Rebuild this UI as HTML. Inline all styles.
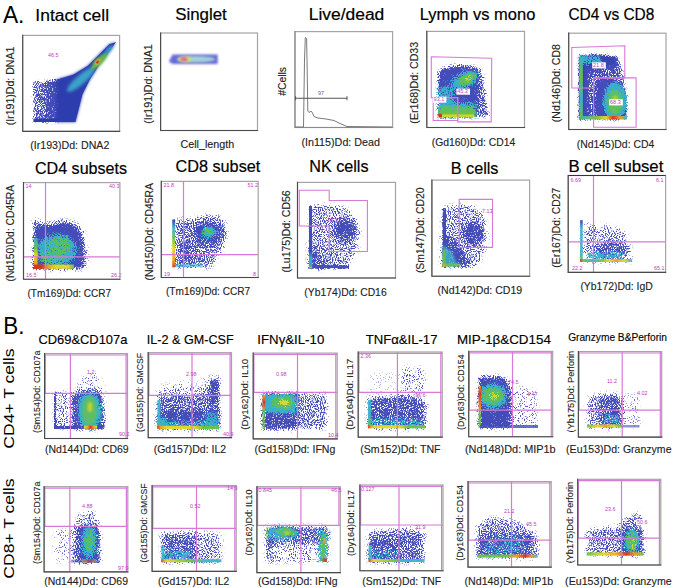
<!DOCTYPE html>
<html><head><meta charset="utf-8"><title>figure</title>
<style>html,body{margin:0;padding:0;background:#fff;}svg{display:block}text{font-family:"Liberation Sans", sans-serif;}</style>
</head><body>
<svg width="673" height="588" viewBox="0 0 673 588">
<defs>
<filter id="b0_3" x="-50%" y="-50%" width="200%" height="200%"><feGaussianBlur stdDeviation="0.24"/></filter>
<filter id="b0_5" x="-50%" y="-50%" width="200%" height="200%"><feGaussianBlur stdDeviation="0.40"/></filter>
<filter id="b0_6" x="-50%" y="-50%" width="200%" height="200%"><feGaussianBlur stdDeviation="0.48"/></filter>
<filter id="b1" x="-50%" y="-50%" width="200%" height="200%"><feGaussianBlur stdDeviation="0.80"/></filter>
<filter id="b1_2" x="-50%" y="-50%" width="200%" height="200%"><feGaussianBlur stdDeviation="0.96"/></filter>
<filter id="b1_5" x="-50%" y="-50%" width="200%" height="200%"><feGaussianBlur stdDeviation="1.20"/></filter>
<filter id="b1_8" x="-50%" y="-50%" width="200%" height="200%"><feGaussianBlur stdDeviation="1.44"/></filter>
<filter id="b2" x="-50%" y="-50%" width="200%" height="200%"><feGaussianBlur stdDeviation="1.60"/></filter>
<linearGradient id="g5strip" x1="0" y1="0" x2="0" y2="1"><stop offset="0" stop-color="#3cb4cc"/><stop offset="0.3" stop-color="#6cc244"/><stop offset="0.7" stop-color="#3cb4cc"/><stop offset="1" stop-color="#6cc244"/></linearGradient>
<linearGradient id="g5band" x1="0" y1="0" x2="1" y2="0"><stop offset="0" stop-color="#3cb4cc"/><stop offset="0.3" stop-color="#6cc244"/><stop offset="0.55" stop-color="#e4dc22"/><stop offset="0.7" stop-color="#e0301c"/><stop offset="0.85" stop-color="#f0a020"/><stop offset="1" stop-color="#3cb4cc"/></linearGradient>
<linearGradient id="g6s" x1="0" y1="0" x2="0" y2="1"><stop offset="0" stop-color="#3cb4cc"/><stop offset="0.3" stop-color="#6cc244"/><stop offset="0.55" stop-color="#e4dc22"/><stop offset="0.85" stop-color="#f0a020"/><stop offset="1" stop-color="#e0301c"/></linearGradient>
<linearGradient id="g6b" x1="0" y1="0" x2="1" y2="0"><stop offset="0" stop-color="#e0301c"/><stop offset="0.2" stop-color="#e0301c"/><stop offset="0.35" stop-color="#f0a020"/><stop offset="0.55" stop-color="#e4dc22"/><stop offset="0.85" stop-color="#e4dc22"/><stop offset="1" stop-color="#6cc244"/></linearGradient>
<linearGradient id="g7s" x1="0" y1="0" x2="0" y2="1"><stop offset="0" stop-color="#2e3eae"/><stop offset="0.18" stop-color="#3cb4cc"/><stop offset="0.4" stop-color="#6cc244"/><stop offset="0.6" stop-color="#e4dc22"/><stop offset="0.85" stop-color="#f0a020"/><stop offset="1" stop-color="#e0301c"/></linearGradient>
<linearGradient id="g8s" x1="0" y1="0" x2="0" y2="1"><stop offset="0" stop-color="#2e3eae"/><stop offset="0.4" stop-color="#3cb4cc"/><stop offset="0.85" stop-color="#3cb4cc"/><stop offset="1" stop-color="#e4dc22"/></linearGradient>
<linearGradient id="g10s" x1="0" y1="0" x2="0" y2="1"><stop offset="0" stop-color="#2e3eae"/><stop offset="0.2" stop-color="#3cb4cc"/><stop offset="0.8" stop-color="#3cb4cc"/><stop offset="1" stop-color="#6cc244"/></linearGradient>
<linearGradient id="g10b" x1="0" y1="0" x2="1" y2="0"><stop offset="0" stop-color="#e0301c"/><stop offset="0.06" stop-color="#6cc244"/><stop offset="0.25" stop-color="#3cb4cc"/><stop offset="0.4" stop-color="#6cc244"/><stop offset="0.55" stop-color="#e4dc22"/><stop offset="0.7" stop-color="#f0a020"/><stop offset="0.85" stop-color="#e4dc22"/><stop offset="1" stop-color="#3cb4cc"/></linearGradient>
<linearGradient id="gb1" x1="0" y1="0" x2="1" y2="0"><stop offset="0" stop-color="#e4dc22"/><stop offset="0.3" stop-color="#f0a020"/><stop offset="0.5" stop-color="#e0301c"/><stop offset="0.75" stop-color="#f0a020"/><stop offset="1" stop-color="#e4dc22"/></linearGradient>
<linearGradient id="gb2s" x1="0" y1="0" x2="0" y2="1"><stop offset="0" stop-color="#3cb4cc"/><stop offset="0.7" stop-color="#3cb4cc"/><stop offset="1" stop-color="#6cc244"/></linearGradient>
<linearGradient id="gb2b" x1="0" y1="0" x2="1" y2="0"><stop offset="0" stop-color="#e0301c"/><stop offset="0.05" stop-color="#f0a020"/><stop offset="0.15" stop-color="#e4dc22"/><stop offset="0.6" stop-color="#e4dc22"/><stop offset="0.75" stop-color="#6cc244"/><stop offset="1" stop-color="#6cc244"/></linearGradient>
<linearGradient id="gb3s" x1="0" y1="0" x2="0" y2="1"><stop offset="0" stop-color="#f0a020"/><stop offset="0.5" stop-color="#e0301c"/><stop offset="1" stop-color="#f0a020"/></linearGradient>
<linearGradient id="gb4s" x1="0" y1="0" x2="0" y2="1"><stop offset="0" stop-color="#3cb4cc"/><stop offset="0.6" stop-color="#3cb4cc"/><stop offset="1" stop-color="#6cc244"/></linearGradient>
<linearGradient id="gb4b" x1="0" y1="0" x2="1" y2="0"><stop offset="0" stop-color="#e0301c"/><stop offset="0.05" stop-color="#f0a020"/><stop offset="0.12" stop-color="#e4dc22"/><stop offset="0.55" stop-color="#e4dc22"/><stop offset="0.7" stop-color="#6cc244"/><stop offset="1" stop-color="#6cc244"/></linearGradient>
<linearGradient id="gb5s" x1="0" y1="0" x2="0" y2="1"><stop offset="0" stop-color="#f0a020"/><stop offset="0.3" stop-color="#e0301c"/><stop offset="1" stop-color="#f0a020"/></linearGradient>
<linearGradient id="gb6b" x1="0" y1="0" x2="1" y2="0"><stop offset="0" stop-color="#6cc244"/><stop offset="0.3" stop-color="#e4dc22"/><stop offset="0.55" stop-color="#f0a020"/><stop offset="0.75" stop-color="#e4dc22"/><stop offset="1" stop-color="#6cc244"/></linearGradient>
<linearGradient id="gc1b" x1="0" y1="0" x2="1" y2="0"><stop offset="0" stop-color="#e4dc22"/><stop offset="0.3" stop-color="#f0a020"/><stop offset="0.55" stop-color="#e0301c"/><stop offset="0.8" stop-color="#f0a020"/><stop offset="1" stop-color="#e4dc22"/></linearGradient>
<linearGradient id="gc2b" x1="0" y1="0" x2="1" y2="0"><stop offset="0" stop-color="#e0301c"/><stop offset="0.04" stop-color="#f0a020"/><stop offset="0.1" stop-color="#e4dc22"/><stop offset="0.5" stop-color="#6cc244"/><stop offset="0.75" stop-color="#3cb4cc"/><stop offset="1" stop-color="#3cb4cc"/></linearGradient>
<linearGradient id="gc4s" x1="0" y1="0" x2="0" y2="1"><stop offset="0" stop-color="#3cb4cc"/><stop offset="0.7" stop-color="#3cb4cc"/><stop offset="1" stop-color="#6cc244"/></linearGradient>
<linearGradient id="gc4b" x1="0" y1="0" x2="1" y2="0"><stop offset="0" stop-color="#e0301c"/><stop offset="0.05" stop-color="#f0a020"/><stop offset="0.1" stop-color="#e4dc22"/><stop offset="0.5" stop-color="#6cc244"/><stop offset="0.6" stop-color="#3cb4cc"/><stop offset="1" stop-color="#3cb4cc"/></linearGradient>
<linearGradient id="gc5b" x1="0" y1="0" x2="1" y2="0"><stop offset="0" stop-color="#6cc244"/><stop offset="0.5" stop-color="#6cc244"/><stop offset="0.65" stop-color="#f0a020"/><stop offset="0.8" stop-color="#e0301c"/><stop offset="0.9" stop-color="#f0a020"/><stop offset="1" stop-color="#3cb4cc"/></linearGradient>
<linearGradient id="gc6b" x1="0" y1="0" x2="1" y2="0"><stop offset="0" stop-color="#6cc244"/><stop offset="0.3" stop-color="#e4dc22"/><stop offset="0.55" stop-color="#f0a020"/><stop offset="0.7" stop-color="#e0301c"/><stop offset="0.85" stop-color="#f0a020"/><stop offset="1" stop-color="#6cc244"/></linearGradient>
<filter id="d_444cba_1_5_3" filterUnits="userSpaceOnUse" x="0" y="0" width="673" height="588" color-interpolation-filters="sRGB"><feGaussianBlur in="SourceAlpha" stdDeviation="1.5" result="d"/><feTurbulence type="fractalNoise" baseFrequency="0.93" numOctaves="2" seed="3" result="n"/><feColorMatrix in="n" type="matrix" values="0 0 0 0 0 0 0 0 0 0 0 0 0 0 0 2.6 0 0 0 -0.8" result="na"/><feComposite in="d" in2="na" operator="arithmetic" k1="0" k2="4.3" k3="3" k4="-3" result="m"/><feFlood flood-color="#444cba" result="c"/><feComposite in="c" in2="m" operator="in"/><feGaussianBlur stdDeviation="0.6"/></filter>
<filter id="d_38b0cc_2_5" filterUnits="userSpaceOnUse" x="0" y="0" width="673" height="588" color-interpolation-filters="sRGB"><feGaussianBlur in="SourceAlpha" stdDeviation="2" result="d"/><feTurbulence type="fractalNoise" baseFrequency="0.93" numOctaves="2" seed="5" result="n"/><feColorMatrix in="n" type="matrix" values="0 0 0 0 0 0 0 0 0 0 0 0 0 0 0 2.6 0 0 0 -0.8" result="na"/><feComposite in="d" in2="na" operator="arithmetic" k1="0" k2="4.3" k3="3" k4="-3" result="m"/><feFlood flood-color="#38b0cc" result="c"/><feComposite in="c" in2="m" operator="in"/><feGaussianBlur stdDeviation="0.6"/></filter>
<filter id="d_5cc060_1_5_7" filterUnits="userSpaceOnUse" x="0" y="0" width="673" height="588" color-interpolation-filters="sRGB"><feGaussianBlur in="SourceAlpha" stdDeviation="1.5" result="d"/><feTurbulence type="fractalNoise" baseFrequency="0.93" numOctaves="2" seed="7" result="n"/><feColorMatrix in="n" type="matrix" values="0 0 0 0 0 0 0 0 0 0 0 0 0 0 0 2.6 0 0 0 -0.8" result="na"/><feComposite in="d" in2="na" operator="arithmetic" k1="0" k2="4.3" k3="3" k4="-3" result="m"/><feFlood flood-color="#5cc060" result="c"/><feComposite in="c" in2="m" operator="in"/><feGaussianBlur stdDeviation="0.6"/></filter>
<filter id="d_d8d830_1_2_11" filterUnits="userSpaceOnUse" x="0" y="0" width="673" height="588" color-interpolation-filters="sRGB"><feGaussianBlur in="SourceAlpha" stdDeviation="1.2" result="d"/><feTurbulence type="fractalNoise" baseFrequency="0.93" numOctaves="2" seed="11" result="n"/><feColorMatrix in="n" type="matrix" values="0 0 0 0 0 0 0 0 0 0 0 0 0 0 0 2.6 0 0 0 -0.8" result="na"/><feComposite in="d" in2="na" operator="arithmetic" k1="0" k2="4.3" k3="3" k4="-3" result="m"/><feFlood flood-color="#d8d830" result="c"/><feComposite in="c" in2="m" operator="in"/><feGaussianBlur stdDeviation="0.6"/></filter>
<filter id="d_38b0cc_1_5_5" filterUnits="userSpaceOnUse" x="0" y="0" width="673" height="588" color-interpolation-filters="sRGB"><feGaussianBlur in="SourceAlpha" stdDeviation="1.5" result="d"/><feTurbulence type="fractalNoise" baseFrequency="0.93" numOctaves="2" seed="5" result="n"/><feColorMatrix in="n" type="matrix" values="0 0 0 0 0 0 0 0 0 0 0 0 0 0 0 2.6 0 0 0 -0.8" result="na"/><feComposite in="d" in2="na" operator="arithmetic" k1="0" k2="4.3" k3="3" k4="-3" result="m"/><feFlood flood-color="#38b0cc" result="c"/><feComposite in="c" in2="m" operator="in"/><feGaussianBlur stdDeviation="0.6"/></filter>
<filter id="d_444cba_2_3" filterUnits="userSpaceOnUse" x="0" y="0" width="673" height="588" color-interpolation-filters="sRGB"><feGaussianBlur in="SourceAlpha" stdDeviation="2" result="d"/><feTurbulence type="fractalNoise" baseFrequency="0.93" numOctaves="2" seed="3" result="n"/><feColorMatrix in="n" type="matrix" values="0 0 0 0 0 0 0 0 0 0 0 0 0 0 0 2.6 0 0 0 -0.8" result="na"/><feComposite in="d" in2="na" operator="arithmetic" k1="0" k2="4.3" k3="3" k4="-3" result="m"/><feFlood flood-color="#444cba" result="c"/><feComposite in="c" in2="m" operator="in"/><feGaussianBlur stdDeviation="0.6"/></filter>
<filter id="d_38b0cc_2_5_5" filterUnits="userSpaceOnUse" x="0" y="0" width="673" height="588" color-interpolation-filters="sRGB"><feGaussianBlur in="SourceAlpha" stdDeviation="2.5" result="d"/><feTurbulence type="fractalNoise" baseFrequency="0.93" numOctaves="2" seed="5" result="n"/><feColorMatrix in="n" type="matrix" values="0 0 0 0 0 0 0 0 0 0 0 0 0 0 0 2.6 0 0 0 -0.8" result="na"/><feComposite in="d" in2="na" operator="arithmetic" k1="0" k2="4.3" k3="3" k4="-3" result="m"/><feFlood flood-color="#38b0cc" result="c"/><feComposite in="c" in2="m" operator="in"/><feGaussianBlur stdDeviation="0.6"/></filter>
<filter id="d_5cc060_2_5_7" filterUnits="userSpaceOnUse" x="0" y="0" width="673" height="588" color-interpolation-filters="sRGB"><feGaussianBlur in="SourceAlpha" stdDeviation="2.5" result="d"/><feTurbulence type="fractalNoise" baseFrequency="0.93" numOctaves="2" seed="7" result="n"/><feColorMatrix in="n" type="matrix" values="0 0 0 0 0 0 0 0 0 0 0 0 0 0 0 2.6 0 0 0 -0.8" result="na"/><feComposite in="d" in2="na" operator="arithmetic" k1="0" k2="4.3" k3="3" k4="-3" result="m"/><feFlood flood-color="#5cc060" result="c"/><feComposite in="c" in2="m" operator="in"/><feGaussianBlur stdDeviation="0.6"/></filter>
<filter id="d_444cba_2_5_3" filterUnits="userSpaceOnUse" x="0" y="0" width="673" height="588" color-interpolation-filters="sRGB"><feGaussianBlur in="SourceAlpha" stdDeviation="2.5" result="d"/><feTurbulence type="fractalNoise" baseFrequency="0.93" numOctaves="2" seed="3" result="n"/><feColorMatrix in="n" type="matrix" values="0 0 0 0 0 0 0 0 0 0 0 0 0 0 0 2.6 0 0 0 -0.8" result="na"/><feComposite in="d" in2="na" operator="arithmetic" k1="0" k2="4.3" k3="3" k4="-3" result="m"/><feFlood flood-color="#444cba" result="c"/><feComposite in="c" in2="m" operator="in"/><feGaussianBlur stdDeviation="0.6"/></filter>
<filter id="d_444cba_0_6_9" filterUnits="userSpaceOnUse" x="0" y="0" width="673" height="588" color-interpolation-filters="sRGB"><feGaussianBlur in="SourceAlpha" stdDeviation="0.6" result="d"/><feTurbulence type="fractalNoise" baseFrequency="0.93" numOctaves="2" seed="9" result="n"/><feColorMatrix in="n" type="matrix" values="0 0 0 0 0 0 0 0 0 0 0 0 0 0 0 2.6 0 0 0 -0.8" result="na"/><feComposite in="d" in2="na" operator="arithmetic" k1="0" k2="4.3" k3="3" k4="-3" result="m"/><feFlood flood-color="#444cba" result="c"/><feComposite in="c" in2="m" operator="in"/><feGaussianBlur stdDeviation="0.6"/></filter>
<filter id="d_444cba_0_8_9" filterUnits="userSpaceOnUse" x="0" y="0" width="673" height="588" color-interpolation-filters="sRGB"><feGaussianBlur in="SourceAlpha" stdDeviation="0.8" result="d"/><feTurbulence type="fractalNoise" baseFrequency="0.93" numOctaves="2" seed="9" result="n"/><feColorMatrix in="n" type="matrix" values="0 0 0 0 0 0 0 0 0 0 0 0 0 0 0 2.6 0 0 0 -0.8" result="na"/><feComposite in="d" in2="na" operator="arithmetic" k1="0" k2="4.3" k3="3" k4="-3" result="m"/><feFlood flood-color="#444cba" result="c"/><feComposite in="c" in2="m" operator="in"/><feGaussianBlur stdDeviation="0.6"/></filter>
<filter id="d_5cc060_2_7" filterUnits="userSpaceOnUse" x="0" y="0" width="673" height="588" color-interpolation-filters="sRGB"><feGaussianBlur in="SourceAlpha" stdDeviation="2" result="d"/><feTurbulence type="fractalNoise" baseFrequency="0.93" numOctaves="2" seed="7" result="n"/><feColorMatrix in="n" type="matrix" values="0 0 0 0 0 0 0 0 0 0 0 0 0 0 0 2.6 0 0 0 -0.8" result="na"/><feComposite in="d" in2="na" operator="arithmetic" k1="0" k2="4.3" k3="3" k4="-3" result="m"/><feFlood flood-color="#5cc060" result="c"/><feComposite in="c" in2="m" operator="in"/><feGaussianBlur stdDeviation="0.6"/></filter>
<filter id="d_d8d830_1_5_11" filterUnits="userSpaceOnUse" x="0" y="0" width="673" height="588" color-interpolation-filters="sRGB"><feGaussianBlur in="SourceAlpha" stdDeviation="1.5" result="d"/><feTurbulence type="fractalNoise" baseFrequency="0.93" numOctaves="2" seed="11" result="n"/><feColorMatrix in="n" type="matrix" values="0 0 0 0 0 0 0 0 0 0 0 0 0 0 0 2.6 0 0 0 -0.8" result="na"/><feComposite in="d" in2="na" operator="arithmetic" k1="0" k2="4.3" k3="3" k4="-3" result="m"/><feFlood flood-color="#d8d830" result="c"/><feComposite in="c" in2="m" operator="in"/><feGaussianBlur stdDeviation="0.6"/></filter>
</defs>
<rect width="673" height="588" fill="#fff"/>
<text x="13.7" y="23.2" font-size="23.80" fill="#000" stroke="#000" stroke-width="0" text-anchor="middle" textLength="21.5" lengthAdjust="spacingAndGlyphs">A.</text>
<text x="72.2" y="21.4" font-size="17.30" fill="#000" stroke="#000" stroke-width="0.21" text-anchor="middle" textLength="73.7" lengthAdjust="spacingAndGlyphs">Intact cell</text>
<text x="201.0" y="19.6" font-size="17.30" fill="#000" stroke="#000" stroke-width="0.21" text-anchor="middle" textLength="51.6" lengthAdjust="spacingAndGlyphs">Singlet</text>
<text x="346.5" y="20.0" font-size="17.30" fill="#000" stroke="#000" stroke-width="0.21" text-anchor="middle" textLength="75.6" lengthAdjust="spacingAndGlyphs">Live/dead</text>
<text x="477.5" y="20.0" font-size="17.30" fill="#000" stroke="#000" stroke-width="0.21" text-anchor="middle" textLength="115.6" lengthAdjust="spacingAndGlyphs">Lymph vs mono</text>
<text x="611.4" y="20.0" font-size="17.30" fill="#000" stroke="#000" stroke-width="0.21" text-anchor="middle" textLength="85.9" lengthAdjust="spacingAndGlyphs">CD4 vs CD8</text>
<clipPath id="c1"><rect x="22.7" y="35.4" width="96.89999999999999" height="96.0"/></clipPath>
<g clip-path="url(#c1)">
<g filter="url(#d_444cba_1_5_3)">
<polygon points="33.4,122 62,122 62,79 41.4,81.8 33.4,81.8" fill="#000" fill-opacity="0.55"/>
<polygon points="46,122 62,122 62,79 46,81" fill="#000" fill-opacity="0.5"/>
</g>
<polygon points="56,122 75.4,122 78.9,108.6 82.5,94.3 89.6,80 98.6,65.7 109.3,51.4 116,42 109.3,44.3 98.6,55 87.9,65.7 73.6,74.6 55.7,80 56,80.5" fill="#2e3eae" fill-opacity="1" filter="url(#b1_8)"/>
<polygon points="60,122 75.4,122 78.9,108.6 82.5,94.3 89.6,80 98.6,65.7 109.3,51.4 116,42 109.3,44.3 98.6,55 87.9,65.7 73.6,74.6 55.7,80 60,80" fill="#2e3eae" fill-opacity="1" filter="url(#b0_6)"/>
<rect x="33.4" y="118.6" width="42" height="3.4" fill="#2e3eae" fill-opacity="1" filter="url(#b0_5)"/>
<ellipse cx="81" cy="79.5" rx="18" ry="4.6" transform="rotate(-41 81 79.5)" fill="#3cb4cc" fill-opacity="0.85" filter="url(#b2)"/>
<ellipse cx="99.5" cy="61" rx="11.5" ry="3.6" transform="rotate(-45 99.5 61)" fill="#6cc244" fill-opacity="0.9" filter="url(#b1)"/>
<ellipse cx="109" cy="50" rx="6" ry="2.2" transform="rotate(-48 109 50)" fill="#3cb4cc" fill-opacity="0.8" filter="url(#b1)"/>
<ellipse cx="97.7" cy="62.1" rx="3" ry="2" transform="rotate(-45 97.7 62.1)" fill="#e4dc22" fill-opacity="0.9" filter="url(#b1)"/>
<ellipse cx="97.7" cy="62.1" rx="2" ry="1.3" transform="rotate(-45 97.7 62.1)" fill="#e0301c" fill-opacity="1" filter="url(#b0_5)"/>
</g>
<rect x="22.7" y="35.4" width="96.9" height="96.0" fill="none" stroke="#a4a4a4" stroke-width="1.2"/>
<path d="M22.7,34.8 V131.4 H120.2" fill="none" stroke="#4a4a4a" stroke-width="1.1"/>
<text x="48" y="56.6" font-size="5.3999999999999995" fill="#c040c0">46.5</text>
<text transform="translate(14.3,86.0) rotate(-90)" x="0" y="0" font-size="10.50" fill="#222" stroke="#222" stroke-width="0.13" text-anchor="middle" textLength="78.7" lengthAdjust="spacingAndGlyphs">(Ir191)Dd: DNA1</text>
<text x="69.8" y="149.3" font-size="10.40" fill="#222" stroke="#222" stroke-width="0.12" text-anchor="middle" textLength="79.0" lengthAdjust="spacingAndGlyphs">(Ir193)Dd: DNA2</text>
<clipPath id="c2"><rect x="160.6" y="33" width="96.9" height="97.5"/></clipPath>
<g clip-path="url(#c2)">
<polygon points="168.8,61.6 172.5,54.6 217.7,54.4 217.7,63.9 172.5,64" fill="#6064d4" fill-opacity="0.95" filter="url(#b1)"/>
<ellipse cx="196" cy="59.3" rx="19" ry="3.2" fill="#a8dcd8" fill-opacity="0.9" filter="url(#b1)"/>
<ellipse cx="185" cy="59.3" rx="7" ry="3.0" fill="#d0e070" fill-opacity="0.9" filter="url(#b1)"/>
<ellipse cx="184" cy="59.3" rx="3.5" ry="2.2" fill="#e85a9a" fill-opacity="0.9" filter="url(#b1)"/>
</g>
<rect x="160.6" y="33.0" width="96.9" height="97.5" fill="none" stroke="#a4a4a4" stroke-width="1.2"/>
<path d="M160.6,32.4 V130.5 H258.1" fill="none" stroke="#4a4a4a" stroke-width="1.1"/>
<text transform="translate(152.0,84.0) rotate(-90)" x="0" y="0" font-size="10.50" fill="#222" stroke="#222" stroke-width="0.13" text-anchor="middle" textLength="79.4" lengthAdjust="spacingAndGlyphs">(Ir191)Dd: DNA1</text>
<text x="207.3" y="147.9" font-size="10.80" fill="#222" stroke="#222" stroke-width="0.13" text-anchor="middle" textLength="53.8" lengthAdjust="spacingAndGlyphs">Cell_length</text>
<rect x="295.0" y="31.6" width="97.6" height="95.9" fill="none" stroke="#a4a4a4" stroke-width="1.2"/>
<path d="M295.0,31.0 V127.5 H393.2" fill="none" stroke="#8a8a8a" stroke-width="1.1"/>
<path d="M295,127 L303.5,127 L304.5,60 L305.3,37.5 L306.6,38.5 L307.2,70 L307.8,111 L309,112.5 L311,111 L312.5,113 L314,116.5 L318,118 L326,119 L334,120.5 L340,123.5 L347,126.5 L392,127" fill="none" stroke="#7a7a7a" stroke-width="1"/>
<line x1="295" y1="98.2" x2="347" y2="98.2" stroke="#555" stroke-width="1.1"/>
<line x1="347" y1="96.2" x2="347" y2="100.2" stroke="#555" stroke-width="1"/>
<line x1="295.6" y1="96.2" x2="295.6" y2="100.2" stroke="#555" stroke-width="1"/>
<text x="318" y="95.2" font-size="5.3999999999999995" fill="#666">97</text>
<text transform="translate(286.2,81.4) rotate(-90)" x="0" y="0" font-size="11.00" fill="#222" stroke="#222" stroke-width="0.13" text-anchor="middle" textLength="28.9" lengthAdjust="spacingAndGlyphs">#Cells</text>
<text x="340.7" y="145.6" font-size="10.40" fill="#222" stroke="#222" stroke-width="0.12" text-anchor="middle" textLength="78.6" lengthAdjust="spacingAndGlyphs">(In115)Dd: Dead</text>
<clipPath id="c3"><rect x="426.8" y="31.4" width="97.69999999999999" height="96.1"/></clipPath>
<g clip-path="url(#c3)">
<g filter="url(#d_444cba_1_5_3)">
<polygon points="437.9,71.8 442.7,67.7 452.2,65 463.1,64.3 472.6,65.7 480.8,69 483.5,77.2 484.9,90.8 487.6,107.2 489,116.7 437.9,117.5" fill="#000" fill-opacity="0.55"/>
<polygon points="439.5,74 444,70 452.2,68 463.1,67.5 472.6,69 478,72 479,80 478,95 476,116.5 439,116.8" fill="#000" fill-opacity="0.75"/>
</g>
<g filter="url(#d_38b0cc_2_5)">
<ellipse cx="465" cy="80" rx="15" ry="8" transform="rotate(-25 465 80)" fill="#000" fill-opacity="0.8"/>
<rect x="438.5" y="86" width="15" height="31" fill="#000" fill-opacity="0.7"/>
<rect x="438.5" y="102" width="38" height="15" fill="#000" fill-opacity="0.75"/>
</g>
<g filter="url(#d_5cc060_1_5_7)">
<ellipse cx="467" cy="79" rx="10" ry="5" transform="rotate(-25 467 79)" fill="#000" fill-opacity="0.85"/>
<rect x="438.5" y="106" width="36" height="11" fill="#000" fill-opacity="0.8"/>
</g>
<g filter="url(#d_d8d830_1_2_11)">
<ellipse cx="468" cy="78.5" rx="4" ry="2" transform="rotate(-25 468 78.5)" fill="#000" fill-opacity="0.5"/>
</g>
<rect x="438.5" y="111.5" width="37" height="5.5" fill="#6cc244" fill-opacity="0.8" filter="url(#b1)"/>
<rect x="440" y="114.4" width="34" height="2.6" fill="#e4dc22" fill-opacity="0.8" filter="url(#b0_5)"/>
<rect x="438.5" y="113.8" width="3.5" height="3.6" fill="#e0301c" fill-opacity="1"/>
</g>
<polygon points="431.3,56.8 491.7,58.2 491.2,121.9 457.7,121.9 457.7,97.6 431.3,97.6" fill="none" stroke="#d77ad7" stroke-width="1.1"/>
<polygon points="433.2,97.6 457.7,97.6 457.7,120.5 433.2,120.5" fill="none" stroke="#d77ad7" stroke-width="1.1"/>
<rect x="456.4" y="88.6" width="13.6" height="6.1" fill="#fff"/>
<text x="457.2" y="93.3" font-size="5.52" fill="#c040c0">45.3</text>
<rect x="432.8" y="96.6" width="13.6" height="6.1" fill="#fff"/>
<text x="433.6" y="101.3" font-size="5.52" fill="#c040c0">93.1</text>
<rect x="426.8" y="31.4" width="97.7" height="96.1" fill="none" stroke="#a4a4a4" stroke-width="1.2"/>
<path d="M426.8,30.8 V127.5 H525.1" fill="none" stroke="#4a4a4a" stroke-width="1.1"/>
<text transform="translate(418.3,82.8) rotate(-90)" x="0" y="0" font-size="10.50" fill="#222" stroke="#222" stroke-width="0.13" text-anchor="middle" textLength="81.7" lengthAdjust="spacingAndGlyphs">(Er168)Dd: CD33</text>
<text x="473.5" y="145.6" font-size="10.40" fill="#222" stroke="#222" stroke-width="0.12" text-anchor="middle" textLength="83.4" lengthAdjust="spacingAndGlyphs">(Gd160)Dd: CD14</text>
<clipPath id="c4"><rect x="568.7" y="33.2" width="97.29999999999995" height="96.3"/></clipPath>
<g clip-path="url(#c4)">
<g filter="url(#d_444cba_1_5_3)">
<polygon points="579.3,55 600,54.5 617,56.8 622,70 625,85 627,100 627,118.5 579.3,119.5" fill="#000" fill-opacity="0.62"/>
<polygon points="579.3,55.5 600,55 616,57 619,66 600,68 588,72 587,118 579.3,119.5" fill="#000" fill-opacity="0.85"/>
<polygon points="598,80 612,78 622,85 626,100 626,118.5 596,119.5" fill="#000" fill-opacity="0.8"/>
</g>
<polygon points="579.3,56 600,55.5 614,57.5 616,64 600,66 585,68 583,118 579.3,119" fill="#2e3eae" fill-opacity="0.6" filter="url(#b1_2)"/>
<g filter="url(#d_38b0cc_1_5_5)">
<rect x="579.3" y="55.5" width="22" height="9" fill="#000" fill-opacity="0.7"/>
<ellipse cx="615" cy="101" rx="12" ry="19" fill="#000" fill-opacity="0.9"/>
</g>
<g filter="url(#d_5cc060_1_5_7)">
<ellipse cx="615" cy="102" rx="7.5" ry="13" fill="#000" fill-opacity="0.8"/>
</g>
<ellipse cx="615" cy="100" rx="3" ry="5" fill="#e4dc22" fill-opacity="0.5" filter="url(#b1_5)"/>
<rect x="579.5" y="57" width="3.4" height="62" fill="url(#g5strip)" fill-opacity="0.95"/>
<rect x="581" y="116" width="46" height="3.5" fill="url(#g5band)" fill-opacity="0.95"/>
</g>
<polygon points="571.8,47.5 624.8,45.7 624.8,77.9 593.6,77.9 593.6,88 571.8,88" fill="none" stroke="#d77ad7" stroke-width="1.1"/>
<polygon points="593.6,77.9 636.1,77.9 636.1,127.3 593.6,127.3" fill="none" stroke="#d77ad7" stroke-width="1.1"/>
<rect x="592.2" y="62.3" width="13.6" height="6.1" fill="#fff"/>
<text x="593" y="67" font-size="5.52" fill="#c040c0">21.8</text>
<rect x="609.2" y="99.3" width="13.6" height="6.1" fill="#fff"/>
<text x="610" y="104" font-size="5.52" fill="#c040c0">68.3</text>
<rect x="568.7" y="33.2" width="97.3" height="96.3" fill="none" stroke="#a4a4a4" stroke-width="1.2"/>
<path d="M568.7,32.6 V129.5 H666.6" fill="none" stroke="#4a4a4a" stroke-width="1.1"/>
<text transform="translate(559.5,83.2) rotate(-90)" x="0" y="0" font-size="10.50" fill="#222" stroke="#222" stroke-width="0.13" text-anchor="middle" textLength="77.9" lengthAdjust="spacingAndGlyphs">(Nd146)Dd: CD8</text>
<text x="615.5" y="147.9" font-size="10.40" fill="#222" stroke="#222" stroke-width="0.12" text-anchor="middle" textLength="77.5" lengthAdjust="spacingAndGlyphs">(Nd145)Dd: CD4</text>
<text x="81.0" y="174.2" font-size="17.30" fill="#000" stroke="#000" stroke-width="0.21" text-anchor="middle" textLength="92.2" lengthAdjust="spacingAndGlyphs">CD4 subsets</text>
<text x="217.9" y="172.4" font-size="17.30" fill="#000" stroke="#000" stroke-width="0.21" text-anchor="middle" textLength="84.8" lengthAdjust="spacingAndGlyphs">CD8 subset</text>
<text x="338.9" y="171.7" font-size="17.30" fill="#000" stroke="#000" stroke-width="0.21" text-anchor="middle" textLength="59.3" lengthAdjust="spacingAndGlyphs">NK cells</text>
<text x="474.6" y="173.7" font-size="17.30" fill="#000" stroke="#000" stroke-width="0.21" text-anchor="middle" textLength="47.8" lengthAdjust="spacingAndGlyphs">B cells</text>
<text x="615.9" y="171.7" font-size="17.30" fill="#000" stroke="#000" stroke-width="0.21" text-anchor="middle" textLength="94.9" lengthAdjust="spacingAndGlyphs">B cell subset</text>
<clipPath id="c5"><rect x="23.5" y="182.6" width="96.4" height="96.70000000000002"/></clipPath>
<g clip-path="url(#c5)">
<g filter="url(#d_444cba_2_3)">
<polygon points="33.6,218 45,224 55,221 66,220 76,223 83,230 86,245 87,262 85,269 33.6,269" fill="#000" fill-opacity="0.55"/>
<polygon points="34,225 45,228 55,225 65,224 75,227 80,234 82,245 82,262 80,268.7 34,268.7" fill="#000" fill-opacity="0.85"/>
</g>
<g filter="url(#d_38b0cc_2_5_5)">
<ellipse cx="57" cy="250" rx="20" ry="16" fill="#000" fill-opacity="0.8"/>
</g>
<g filter="url(#d_5cc060_2_5_7)">
<ellipse cx="60" cy="245" rx="12" ry="10" fill="#000" fill-opacity="0.55"/>
<ellipse cx="50" cy="259" rx="14" ry="7" fill="#000" fill-opacity="0.5"/>
</g>
<rect x="34" y="238" width="3.6" height="31" fill="url(#g6s)" fill-opacity="0.95"/>
<rect x="34" y="264.6" width="40" height="4.2" fill="url(#g6b)" fill-opacity="0.95"/>
</g>
<line x1="45.5" y1="182.6" x2="45.5" y2="279.3" stroke="#d77ad7" stroke-width="1.2"/>
<line x1="23.5" y1="256.8" x2="119.9" y2="256.8" stroke="#d77ad7" stroke-width="1.2"/>
<text x="25.5" y="188" font-size="5.3999999999999995" fill="#c040c0">14</text>
<text x="109" y="188" font-size="5.3999999999999995" fill="#c040c0">40.3</text>
<text x="26" y="277" font-size="5.3999999999999995" fill="#c040c0">16.5</text>
<text x="111" y="277" font-size="5.3999999999999995" fill="#c040c0">26.2</text>
<rect x="23.5" y="182.6" width="96.4" height="96.7" fill="none" stroke="#a4a4a4" stroke-width="1.2"/>
<path d="M23.5,182.0 V279.3 H120.5" fill="none" stroke="#4a4a4a" stroke-width="1.1"/>
<text transform="translate(13.8,233.2) rotate(-90)" x="0" y="0" font-size="10.20" fill="#222" stroke="#222" stroke-width="0.12" text-anchor="middle" textLength="96.7" lengthAdjust="spacingAndGlyphs">(Nd150)Dd: CD45RA</text>
<text x="69.3" y="297.2" font-size="10.40" fill="#222" stroke="#222" stroke-width="0.12" text-anchor="middle" textLength="83.8" lengthAdjust="spacingAndGlyphs">(Tm169)Dd: CCR7</text>
<clipPath id="c6"><rect x="161.3" y="181.4" width="96.89999999999998" height="96.1"/></clipPath>
<g clip-path="url(#c6)">
<g filter="url(#d_444cba_2_5_3)">
<polygon points="175,218 190,220 200,216 215,215 225,222 227,235 222,250 215,262 210,267.3 175,267.3" fill="#000" fill-opacity="0.5"/>
<ellipse cx="209" cy="233" rx="14" ry="10" fill="#000" fill-opacity="0.6"/>
<rect x="175" y="240" width="20" height="27" fill="#000" fill-opacity="0.2"/>
</g>
<g filter="url(#d_38b0cc_2_5)">
<ellipse cx="209" cy="232.5" rx="9" ry="6.5" fill="#000" fill-opacity="0.75"/>
</g>
<g filter="url(#d_5cc060_1_5_7)">
<ellipse cx="208" cy="232" rx="5" ry="4" fill="#000" fill-opacity="0.65"/>
</g>
<rect x="172.2" y="219.7" width="3" height="47.6" fill="url(#g7s)" fill-opacity="0.95"/>
<rect x="175" y="264" width="28" height="3.3" fill="#3cb4cc" fill-opacity="0.6"/>
</g>
<line x1="183.5" y1="181.4" x2="183.5" y2="277.5" stroke="#d77ad7" stroke-width="1.2"/>
<line x1="161.3" y1="254.6" x2="258.2" y2="254.6" stroke="#d77ad7" stroke-width="1.2"/>
<text x="163.5" y="187" font-size="5.3999999999999995" fill="#c040c0">21.8</text>
<text x="247.5" y="187" font-size="5.3999999999999995" fill="#c040c0">51.2</text>
<text x="164" y="276" font-size="5.3999999999999995" fill="#c040c0">19</text>
<text x="253" y="276" font-size="5.3999999999999995" fill="#c040c0">8</text>
<rect x="161.3" y="181.4" width="96.9" height="96.1" fill="none" stroke="#a4a4a4" stroke-width="1.2"/>
<path d="M161.3,180.8 V277.5 H258.8" fill="none" stroke="#4a4a4a" stroke-width="1.1"/>
<text transform="translate(152.8,231.8) rotate(-90)" x="0" y="0" font-size="10.20" fill="#222" stroke="#222" stroke-width="0.12" text-anchor="middle" textLength="97.5" lengthAdjust="spacingAndGlyphs">(Nd150)Dd: CD45RA</text>
<text x="208.1" y="295.3" font-size="10.40" fill="#222" stroke="#222" stroke-width="0.12" text-anchor="middle" textLength="84.3" lengthAdjust="spacingAndGlyphs">(Tm169)Dd: CCR7</text>
<clipPath id="c7"><rect x="297.5" y="182.4" width="98.0" height="95.6"/></clipPath>
<g clip-path="url(#c7)">
<g filter="url(#d_444cba_2_5_3)">
<polygon points="310,205 330,205 345,208 355,215 360,230 358,248 350,262 345,268.5 309,268.5" fill="#000" fill-opacity="0.42"/>
<ellipse cx="345" cy="230" rx="11" ry="11" fill="#000" fill-opacity="0.6"/>
<polygon points="309,240 322,256 330,268.5 309,268.5" fill="#000" fill-opacity="0.4"/>
</g>
<g filter="url(#d_444cba_0_6_9)">
<rect x="309" y="205.9" width="3.2" height="62.6" fill="#000" fill-opacity="0.9"/>
<rect x="309" y="265.2" width="40" height="3.3" fill="#000" fill-opacity="0.9"/>
</g>
<rect x="309" y="250" width="3.2" height="18.5" fill="url(#g8s)" fill-opacity="0.85" filter="url(#b0_5)"/>
</g>
<polygon points="299.3,190.3 329.2,190.3 329.2,200.5 367.4,200.5 367.4,251.5 329.2,251.5 329.2,226 299.3,226" fill="none" stroke="#d77ad7" stroke-width="1.1"/>
<text x="327" y="222" font-size="5.3999999999999995" fill="#c040c0">18.13</text>
<rect x="297.5" y="182.4" width="98.0" height="95.6" fill="none" stroke="#a4a4a4" stroke-width="1.2"/>
<path d="M297.5,181.8 V278.0 H396.1" fill="none" stroke="#4a4a4a" stroke-width="1.1"/>
<text transform="translate(289.7,231.4) rotate(-90)" x="0" y="0" font-size="10.20" fill="#222" stroke="#222" stroke-width="0.12" text-anchor="middle" textLength="82.1" lengthAdjust="spacingAndGlyphs">(Lu175)Dd: CD56</text>
<text x="345.5" y="296.3" font-size="10.40" fill="#222" stroke="#222" stroke-width="0.12" text-anchor="middle" textLength="82.3" lengthAdjust="spacingAndGlyphs">(Yb174)Dd: CD16</text>
<clipPath id="c8"><rect x="431.9" y="180.1" width="97.70000000000005" height="96.1"/></clipPath>
<g clip-path="url(#c8)">
<g filter="url(#d_444cba_2_5_3)">
<polygon points="442.5,208 455,205 470,205 482,212 487,230 487,245 482,258 476,266.5 442.5,266.5" fill="#000" fill-opacity="0.4"/>
<ellipse cx="473" cy="233" rx="11" ry="11" fill="#000" fill-opacity="0.6"/>
<polygon points="442.5,232 455,242 466,256 472,266.5 442.5,266.5" fill="#000" fill-opacity="0.65"/>
</g>
<g filter="url(#d_444cba_0_6_9)">
<rect x="442.5" y="208" width="3.5" height="58.5" fill="#000" fill-opacity="0.85"/>
</g>
<polygon points="442.5,245 452,252 458,266.5 442.5,266.5" fill="#3cb4cc" fill-opacity="0.8" filter="url(#b1_5)"/>
<rect x="442.5" y="250" width="3" height="16.5" fill="#6cc244" fill-opacity="0.9"/>
<rect x="442.5" y="263.5" width="18" height="3" fill="#6cc244" fill-opacity="0.8"/>
<rect x="442.5" y="264" width="2.6" height="2.6" fill="#f0a020" fill-opacity="0.95"/>
</g>
<polygon points="459.2,199.4 492.5,199.4 492.5,247.4 459.2,247.4" fill="none" stroke="#d77ad7" stroke-width="1.1"/>
<text x="482" y="213" font-size="5.3999999999999995" fill="#c040c0">7.13</text>
<rect x="431.9" y="180.1" width="97.7" height="96.1" fill="none" stroke="#a4a4a4" stroke-width="1.2"/>
<path d="M431.9,179.5 V276.2 H530.2" fill="none" stroke="#4a4a4a" stroke-width="1.1"/>
<text transform="translate(424.4,230.3) rotate(-90)" x="0" y="0" font-size="10.20" fill="#222" stroke="#222" stroke-width="0.12" text-anchor="middle" textLength="85.6" lengthAdjust="spacingAndGlyphs">(Sm147)Dd: CD20</text>
<text x="479.9" y="293.6" font-size="10.40" fill="#222" stroke="#222" stroke-width="0.12" text-anchor="middle" textLength="84.6" lengthAdjust="spacingAndGlyphs">(Nd142)Dd: CD19</text>
<clipPath id="c9"><rect x="568.2" y="175.5" width="97.39999999999998" height="96.89999999999998"/></clipPath>
<g clip-path="url(#c9)">
<g filter="url(#d_444cba_2_5_3)">
<polygon points="582,224 600,225 615,227 625,232 630,245 632,261.7 582,261.7" fill="#000" fill-opacity="0.36"/>
<ellipse cx="612" cy="250" rx="16" ry="9" fill="#000" fill-opacity="0.4"/>
</g>
<g filter="url(#d_38b0cc_1_5_5)">
<rect x="588" y="252" width="36" height="7" fill="#000" fill-opacity="0.6"/>
</g>
<rect x="580.1" y="220.2" width="2.6" height="41.5" fill="url(#g10s)" fill-opacity="0.95"/>
<rect x="580.1" y="259.2" width="52" height="2.8" fill="url(#g10b)" fill-opacity="0.95"/>
</g>
<line x1="593.5" y1="175.5" x2="593.5" y2="272.4" stroke="#d77ad7" stroke-width="1.2"/>
<line x1="568.2" y1="241.9" x2="665.6" y2="241.9" stroke="#d77ad7" stroke-width="1.2"/>
<text x="570.5" y="181.5" font-size="5.3999999999999995" fill="#c040c0">6.69</text>
<text x="656" y="181.5" font-size="5.3999999999999995" fill="#c040c0">6.1</text>
<text x="572" y="270" font-size="5.3999999999999995" fill="#c040c0">22.2</text>
<text x="654" y="270" font-size="5.3999999999999995" fill="#c040c0">65.1</text>
<rect x="568.2" y="175.5" width="97.4" height="96.9" fill="none" stroke="#a4a4a4" stroke-width="1.2"/>
<path d="M568.2,174.9 V272.4 H666.2" fill="none" stroke="#4a4a4a" stroke-width="1.1"/>
<line x1="568.2" y1="175.5" x2="665.6" y2="175.5" stroke="#333" stroke-width="1.2"/>
<text transform="translate(559.6,227.7) rotate(-90)" x="0" y="0" font-size="10.20" fill="#222" stroke="#222" stroke-width="0.12" text-anchor="middle" textLength="79.9" lengthAdjust="spacingAndGlyphs">(Er167)Dd: CD27</text>
<text x="616.6" y="290.3" font-size="10.40" fill="#222" stroke="#222" stroke-width="0.12" text-anchor="middle" textLength="72.4" lengthAdjust="spacingAndGlyphs">(Yb172)Dd: IgD</text>
<text x="13.9" y="334.4" font-size="23.80" fill="#000" stroke="#000" stroke-width="0" text-anchor="middle" textLength="21.2" lengthAdjust="spacingAndGlyphs">B.</text>
<text transform="translate(14.1,398.6) rotate(-90)" x="0" y="0" font-size="15.00" fill="#000" stroke="#000" stroke-width="0" text-anchor="middle" textLength="100.2" lengthAdjust="spacingAndGlyphs">CD4+ T cells</text>
<text transform="translate(14.4,528.6) rotate(-90)" x="0" y="0" font-size="15.00" fill="#000" stroke="#000" stroke-width="0" text-anchor="middle" textLength="100.2" lengthAdjust="spacingAndGlyphs">CD8+ T cells</text>
<text x="82.9" y="344.0" font-size="12.80" fill="#000" stroke="#000" stroke-width="0.15" text-anchor="middle" textLength="89.0" lengthAdjust="spacingAndGlyphs">CD69&amp;CD107a</text>
<text x="190.2" y="343.9" font-size="12.80" fill="#000" stroke="#000" stroke-width="0.15" text-anchor="middle" textLength="86.8" lengthAdjust="spacingAndGlyphs">IL-2 &amp; GM-CSF</text>
<text x="290.8" y="343.9" font-size="12.80" fill="#000" stroke="#000" stroke-width="0.15" text-anchor="middle" textLength="66.9" lengthAdjust="spacingAndGlyphs">IFN&#947;&amp;IL-10</text>
<text x="401.6" y="343.9" font-size="12.80" fill="#000" stroke="#000" stroke-width="0.15" text-anchor="middle" textLength="71.7" lengthAdjust="spacingAndGlyphs">TNF&#945;&amp;IL-17</text>
<text x="503.9" y="343.9" font-size="12.80" fill="#000" stroke="#000" stroke-width="0.15" text-anchor="middle" textLength="93.9" lengthAdjust="spacingAndGlyphs">MIP-1&#946;&amp;CD154</text>
<text x="617.6" y="341.0" font-size="10.30" fill="#000" stroke="#000" stroke-width="0.12" text-anchor="middle" textLength="98.9" lengthAdjust="spacingAndGlyphs">Granzyme B&amp;Perforin</text>
<clipPath id="c10"><rect x="44.6" y="353.6" width="82.9" height="84.89999999999998"/></clipPath>
<g clip-path="url(#c10)">
<g filter="url(#d_444cba_2_3)">
<polygon points="54,392 70,390 70,429 54,429" fill="#000" fill-opacity="0.3"/>
<polygon points="74,392 80,380 90,370 100,375 105,392" fill="#000" fill-opacity="0.22"/>
<polygon points="72,394 80,391 92,390 102,393 104,410 104,429 72,429" fill="#000" fill-opacity="0.8"/>
</g>
<g filter="url(#d_444cba_0_6_9)">
<rect x="54" y="392" width="2.5" height="37" fill="#000" fill-opacity="0.7"/>
<rect x="54" y="426" width="50" height="3" fill="#000" fill-opacity="0.8"/>
</g>
<g filter="url(#d_38b0cc_2_5)">
<ellipse cx="89.6" cy="411" rx="12" ry="19" fill="#000" fill-opacity="0.9"/>
</g>
<ellipse cx="89.6" cy="411" rx="7.5" ry="15" fill="#6cc244" fill-opacity="0.75" filter="url(#b2)"/>
<ellipse cx="90" cy="407" rx="2.5" ry="5" fill="#e4dc22" fill-opacity="0.7" filter="url(#b1_5)"/>
<rect x="84" y="425.6" width="13" height="3.2" fill="url(#gb1)" fill-opacity="0.95" filter="url(#b0_3)"/>
</g>
<line x1="70.4" y1="353.6" x2="70.4" y2="438.5" stroke="#d77ad7" stroke-width="1.2"/>
<line x1="44.6" y1="393.3" x2="127.5" y2="393.3" stroke="#d77ad7" stroke-width="1.2"/>
<line x1="44.6" y1="355.0" x2="127.5" y2="355.0" stroke="#d77ad7" stroke-width="1.2"/>
<line x1="126.1" y1="353.6" x2="126.1" y2="438.5" stroke="#d77ad7" stroke-width="1.2"/>
<line x1="45.300000000000004" y1="353.6" x2="45.300000000000004" y2="393.3" stroke="#d77ad7" stroke-width="1.2"/>
<rect x="44.6" y="353.6" width="82.9" height="84.9" fill="none" stroke="#a4a4a4" stroke-width="1.2"/>
<path d="M44.6,353.0 V438.5 H128.1" fill="none" stroke="#4a4a4a" stroke-width="1.1"/>
<text x="87" y="374" font-size="5.3999999999999995" fill="#c040c0">1.2</text>
<text x="119" y="436" font-size="5.3999999999999995" fill="#c040c0">90.2</text>
<text transform="translate(39.8,391.8) rotate(-90)" x="0" y="0" font-size="8.30" fill="#222" stroke="#222" stroke-width="0.1" text-anchor="middle" textLength="82.4" lengthAdjust="spacingAndGlyphs">(Sm154)Dd: CD107a</text>
<text x="86.8" y="452.8" font-size="10.40" fill="#222" stroke="#222" stroke-width="0.12" text-anchor="middle" textLength="83.8" lengthAdjust="spacingAndGlyphs">(Nd144)Dd: CD69</text>
<clipPath id="c11"><rect x="148.2" y="352.7" width="83.30000000000001" height="84.90000000000003"/></clipPath>
<g clip-path="url(#c11)">
<g filter="url(#d_444cba_2_5_3)">
<polygon points="157,388 175,382 195,383 208,378 219,372 219,395 157,395" fill="#000" fill-opacity="0.25"/>
<polygon points="157,396 175,394 195,396 208,392 213,380 219,378 219,429 157,429" fill="#000" fill-opacity="0.55"/>
<rect x="157" y="410" width="62" height="19" fill="#000" fill-opacity="0.45"/>
</g>
<g filter="url(#d_444cba_0_8_9)">
<rect x="210" y="380" width="9" height="49" fill="#000" fill-opacity="0.55"/>
</g>
<g filter="url(#d_38b0cc_1_5_5)">
<rect x="157" y="418" width="10" height="11" fill="#000" fill-opacity="0.7"/>
<rect x="205" y="412" width="14" height="17" fill="#000" fill-opacity="0.6"/>
<rect x="157" y="421" width="62" height="8" fill="#000" fill-opacity="0.5"/>
</g>
<rect x="157.4" y="400" width="3" height="29" fill="url(#gb2s)" fill-opacity="0.9"/>
<rect x="157.4" y="425.8" width="61.5" height="3.2" fill="url(#gb2b)" fill-opacity="0.95"/>
</g>
<line x1="192" y1="352.7" x2="192" y2="437.6" stroke="#d77ad7" stroke-width="1.2"/>
<line x1="148.2" y1="395.4" x2="231.5" y2="395.4" stroke="#d77ad7" stroke-width="1.2"/>
<line x1="148.2" y1="354.09999999999997" x2="231.5" y2="354.09999999999997" stroke="#d77ad7" stroke-width="1.2"/>
<line x1="230.1" y1="352.7" x2="230.1" y2="437.6" stroke="#d77ad7" stroke-width="1.2"/>
<line x1="148.89999999999998" y1="352.7" x2="148.89999999999998" y2="395.4" stroke="#d77ad7" stroke-width="1.2"/>
<rect x="148.2" y="352.7" width="83.3" height="84.9" fill="none" stroke="#a4a4a4" stroke-width="1.2"/>
<path d="M148.2,352.1 V437.6 H232.1" fill="none" stroke="#4a4a4a" stroke-width="1.1"/>
<text x="186" y="376" font-size="5.3999999999999995" fill="#c040c0">2.98</text>
<text x="223" y="436" font-size="5.3999999999999995" fill="#c040c0">40.9</text>
<text transform="translate(143.2,392.4) rotate(-90)" x="0" y="0" font-size="8.30" fill="#222" stroke="#222" stroke-width="0.1" text-anchor="middle" textLength="79.1" lengthAdjust="spacingAndGlyphs">(Gd155)Dd: GMCSF</text>
<text x="189.9" y="452.8" font-size="10.40" fill="#222" stroke="#222" stroke-width="0.12" text-anchor="middle" textLength="72.4" lengthAdjust="spacingAndGlyphs">(Gd157)Dd: IL2</text>
<clipPath id="c12"><rect x="253.2" y="353.1" width="84.0" height="85.79999999999995"/></clipPath>
<g clip-path="url(#c12)">
<g filter="url(#d_444cba_2_3)">
<rect x="297" y="394" width="30" height="35" fill="#000" fill-opacity="0.45"/>
<rect x="262.4" y="393" width="35" height="36.5" fill="#000" fill-opacity="0.75"/>
</g>
<g filter="url(#d_38b0cc_2_5)">
<rect x="263" y="394" width="34" height="19" fill="#000" fill-opacity="0.85"/>
<ellipse cx="280" cy="404" rx="17" ry="10" fill="#000" fill-opacity="0.5"/>
</g>
<g filter="url(#d_5cc060_2_7)">
<ellipse cx="283" cy="403" rx="12" ry="7" fill="#000" fill-opacity="0.85"/>
</g>
<g filter="url(#d_d8d830_1_5_11)">
<ellipse cx="284" cy="402.5" rx="6" ry="3.5" fill="#000" fill-opacity="0.7"/>
</g>
<rect x="262.4" y="395" width="2.8" height="15" fill="url(#gb3s)" fill-opacity="0.9" filter="url(#b0_3)"/>
<rect x="262.4" y="410" width="2.8" height="19" fill="#6cc244" fill-opacity="0.7" filter="url(#b0_3)"/>
</g>
<line x1="297.5" y1="353.1" x2="297.5" y2="438.9" stroke="#d77ad7" stroke-width="1.2"/>
<line x1="253.2" y1="392.4" x2="337.2" y2="392.4" stroke="#d77ad7" stroke-width="1.2"/>
<line x1="253.2" y1="354.5" x2="337.2" y2="354.5" stroke="#d77ad7" stroke-width="1.2"/>
<line x1="335.8" y1="353.1" x2="335.8" y2="438.9" stroke="#d77ad7" stroke-width="1.2"/>
<line x1="253.89999999999998" y1="353.1" x2="253.89999999999998" y2="392.4" stroke="#d77ad7" stroke-width="1.2"/>
<rect x="253.2" y="353.1" width="84.0" height="85.8" fill="none" stroke="#a4a4a4" stroke-width="1.2"/>
<path d="M253.2,352.5 V438.9 H337.8" fill="none" stroke="#4a4a4a" stroke-width="1.1"/>
<text x="276" y="376" font-size="5.3999999999999995" fill="#c040c0">0.98</text>
<text x="328" y="437" font-size="5.3999999999999995" fill="#c040c0">10.4</text>
<text transform="translate(247.8,394.3) rotate(-90)" x="0" y="0" font-size="8.30" fill="#222" stroke="#222" stroke-width="0.1" text-anchor="middle" textLength="70.8" lengthAdjust="spacingAndGlyphs">(Dy162)Dd: IL10</text>
<text x="294.9" y="452.8" font-size="10.40" fill="#222" stroke="#222" stroke-width="0.12" text-anchor="middle" textLength="80.8" lengthAdjust="spacingAndGlyphs">(Gd158)Dd: IFNg</text>
<clipPath id="c13"><rect x="358.2" y="352" width="84.0" height="85.10000000000002"/></clipPath>
<g clip-path="url(#c13)">
<g filter="url(#d_444cba_2_5_3)">
<polygon points="400,368 412,366 424,368 426,392 400,393" fill="#000" fill-opacity="0.25"/>
<polygon points="368,372 395,372 395,392 368,392" fill="#000" fill-opacity="0.1"/>
<polygon points="368,397 395,396 415,396 426,402 426,428.3 368,428.3" fill="#000" fill-opacity="0.65"/>
</g>
<g filter="url(#d_38b0cc_1_5_5)">
<rect x="368" y="418" width="55" height="10" fill="#000" fill-opacity="0.45"/>
</g>
<rect x="368" y="400" width="3" height="28" fill="url(#gb4s)" fill-opacity="0.9"/>
<rect x="368" y="425.2" width="57" height="3.2" fill="url(#gb4b)" fill-opacity="0.95"/>
</g>
<line x1="397.4" y1="352" x2="397.4" y2="437.1" stroke="#d77ad7" stroke-width="1.2"/>
<line x1="358.2" y1="392.3" x2="442.2" y2="392.3" stroke="#d77ad7" stroke-width="1.2"/>
<line x1="358.2" y1="353.4" x2="442.2" y2="353.4" stroke="#d77ad7" stroke-width="1.2"/>
<line x1="440.8" y1="352" x2="440.8" y2="437.1" stroke="#d77ad7" stroke-width="1.2"/>
<line x1="358.9" y1="352" x2="358.9" y2="392.3" stroke="#d77ad7" stroke-width="1.2"/>
<rect x="358.2" y="352.0" width="84.0" height="85.1" fill="none" stroke="#a4a4a4" stroke-width="1.2"/>
<path d="M358.2,351.4 V437.1 H442.8" fill="none" stroke="#4a4a4a" stroke-width="1.1"/>
<text x="360.5" y="358" font-size="5.3999999999999995" fill="#c040c0">2.36</text>
<text x="415" y="397" font-size="5.3999999999999995" fill="#c040c0">36.6</text>
<text transform="translate(352.6,394.3) rotate(-90)" x="0" y="0" font-size="8.30" fill="#222" stroke="#222" stroke-width="0.1" text-anchor="middle" textLength="70.8" lengthAdjust="spacingAndGlyphs">(Dy164)Dd: IL17</text>
<text x="400.4" y="452.8" font-size="10.40" fill="#222" stroke="#222" stroke-width="0.12" text-anchor="middle" textLength="80.2" lengthAdjust="spacingAndGlyphs">(Sm152)Dd: TNF</text>
<clipPath id="c14"><rect x="468.7" y="351.4" width="84.00000000000006" height="85.30000000000001"/></clipPath>
<g clip-path="url(#c14)">
<g filter="url(#d_444cba_2_3)">
<polygon points="510,392 525,385 537,392 538,428 510,428" fill="#000" fill-opacity="0.22"/>
<polygon points="479,377 500,376 507,380 511,390 511,428 479,428" fill="#000" fill-opacity="0.85"/>
</g>
<g filter="url(#d_38b0cc_2_5)">
<ellipse cx="493" cy="396" rx="14" ry="12.5" fill="#000" fill-opacity="0.85"/>
</g>
<g filter="url(#d_5cc060_2_7)">
<ellipse cx="493" cy="396" rx="11" ry="9" fill="#000" fill-opacity="0.85"/>
</g>
<g filter="url(#d_d8d830_1_5_11)">
<ellipse cx="494" cy="396" rx="5" ry="4" fill="#000" fill-opacity="0.55"/>
</g>
<rect x="478.5" y="386" width="2.6" height="24" fill="url(#gb5s)" fill-opacity="0.95" filter="url(#b0_3)"/>
<rect x="478.5" y="410" width="2.6" height="18" fill="#6cc244" fill-opacity="0.8" filter="url(#b0_3)"/>
<rect x="480" y="425" width="58" height="3" fill="#444cba" fill-opacity="0.8"/>
</g>
<line x1="512.5" y1="351.4" x2="512.5" y2="436.7" stroke="#d77ad7" stroke-width="1.2"/>
<line x1="468.7" y1="410.2" x2="552.7" y2="410.2" stroke="#d77ad7" stroke-width="1.2"/>
<line x1="468.7" y1="352.79999999999995" x2="552.7" y2="352.79999999999995" stroke="#d77ad7" stroke-width="1.2"/>
<line x1="551.3000000000001" y1="351.4" x2="551.3000000000001" y2="436.7" stroke="#d77ad7" stroke-width="1.2"/>
<line x1="469.4" y1="351.4" x2="469.4" y2="410.2" stroke="#d77ad7" stroke-width="1.2"/>
<rect x="468.7" y="351.4" width="84.0" height="85.3" fill="none" stroke="#a4a4a4" stroke-width="1.2"/>
<path d="M468.7,350.8 V436.7 H553.3" fill="none" stroke="#4a4a4a" stroke-width="1.1"/>
<text x="508" y="384" font-size="5.3999999999999995" fill="#c040c0">74.5</text>
<text x="527" y="396" font-size="5.3999999999999995" fill="#c040c0">4.47</text>
<text transform="translate(463.7,392.2) rotate(-90)" x="0" y="0" font-size="8.30" fill="#222" stroke="#222" stroke-width="0.1" text-anchor="middle" textLength="75.6" lengthAdjust="spacingAndGlyphs">(Dy163)Dd: CD154</text>
<text x="510.3" y="452.8" font-size="10.40" fill="#222" stroke="#222" stroke-width="0.12" text-anchor="middle" textLength="90.8" lengthAdjust="spacingAndGlyphs">(Nd148)Dd: MIP1b</text>
<clipPath id="c15"><rect x="578.4" y="351.6" width="83.30000000000007" height="85.5"/></clipPath>
<g clip-path="url(#c15)">
<g filter="url(#d_444cba_2_5_3)">
<polygon points="587,398 600,394 615,394 622,398 622,428 587,428" fill="#000" fill-opacity="0.42"/>
<polygon points="622,392 640,395 640,427 622,427" fill="#000" fill-opacity="0.18"/>
<polygon points="600,398 612,395 621,398 621,428 600,428" fill="#000" fill-opacity="0.45"/>
</g>
<g filter="url(#d_38b0cc_1_5_5)">
<rect x="603" y="414" width="17" height="10" fill="#000" fill-opacity="0.5"/>
</g>
<rect x="587" y="424.5" width="34.5" height="3.1" fill="url(#gb6b)" fill-opacity="0.95"/>
<rect x="621.5" y="425" width="18" height="2.5" fill="#444cba" fill-opacity="0.6"/>
</g>
<line x1="622.2" y1="351.6" x2="622.2" y2="437.1" stroke="#d77ad7" stroke-width="1.2"/>
<line x1="578.4" y1="410.2" x2="661.7" y2="410.2" stroke="#d77ad7" stroke-width="1.2"/>
<line x1="578.4" y1="353.0" x2="661.7" y2="353.0" stroke="#d77ad7" stroke-width="1.2"/>
<line x1="660.3000000000001" y1="351.6" x2="660.3000000000001" y2="437.1" stroke="#d77ad7" stroke-width="1.2"/>
<line x1="579.1" y1="351.6" x2="579.1" y2="410.2" stroke="#d77ad7" stroke-width="1.2"/>
<rect x="578.4" y="351.6" width="83.3" height="85.5" fill="none" stroke="#a4a4a4" stroke-width="1.2"/>
<path d="M578.4,351.0 V437.1 H662.3" fill="none" stroke="#4a4a4a" stroke-width="1.1"/>
<text x="607" y="383" font-size="5.3999999999999995" fill="#c040c0">11.2</text>
<text x="637" y="395" font-size="5.3999999999999995" fill="#c040c0">4.02</text>
<text transform="translate(574.3,391.6) rotate(-90)" x="0" y="0" font-size="8.30" fill="#222" stroke="#222" stroke-width="0.1" text-anchor="middle" textLength="81.6" lengthAdjust="spacingAndGlyphs">(Yb175)Dd: Perforin</text>
<text x="618.8" y="453.2" font-size="10.40" fill="#222" stroke="#222" stroke-width="0.12" text-anchor="middle" textLength="105.4" lengthAdjust="spacingAndGlyphs">(Eu153)Dd: Granzyme</text>
<clipPath id="c16"><rect x="44.1" y="486.7" width="83.69999999999999" height="85.19999999999999"/></clipPath>
<g clip-path="url(#c16)">
<g filter="url(#d_444cba_2_3)">
<rect x="54" y="528" width="15" height="34" fill="#000" fill-opacity="0.2"/>
<polygon points="74,528 78,515 88,510 98,515 100,528" fill="#000" fill-opacity="0.35"/>
<polygon points="71,528 85,526 99,528 100,562.6 71,562.6" fill="#000" fill-opacity="0.45"/>
<polygon points="78,528 88,526 99,528 100,562.6 78,562.6" fill="#000" fill-opacity="0.75"/>
</g>
<g filter="url(#d_38b0cc_2_5)">
<ellipse cx="89" cy="542" rx="8" ry="17" fill="#000" fill-opacity="0.8"/>
</g>
<g filter="url(#d_5cc060_2_7)">
<ellipse cx="89.5" cy="541" rx="5" ry="12" fill="#000" fill-opacity="0.65"/>
</g>
<rect x="82" y="559.4" width="14" height="3.2" fill="url(#gc1b)" fill-opacity="0.9" filter="url(#b0_3)"/>
<rect x="71" y="559.6" width="29" height="3" fill="#444cba" fill-opacity="0.5"/>
</g>
<line x1="69.8" y1="486.7" x2="69.8" y2="571.9" stroke="#d77ad7" stroke-width="1.2"/>
<line x1="44.1" y1="526.4" x2="127.8" y2="526.4" stroke="#d77ad7" stroke-width="1.2"/>
<line x1="44.1" y1="488.09999999999997" x2="127.8" y2="488.09999999999997" stroke="#d77ad7" stroke-width="1.2"/>
<line x1="126.39999999999999" y1="486.7" x2="126.39999999999999" y2="571.9" stroke="#d77ad7" stroke-width="1.2"/>
<line x1="44.800000000000004" y1="486.7" x2="44.800000000000004" y2="526.4" stroke="#d77ad7" stroke-width="1.2"/>
<rect x="44.1" y="486.7" width="83.7" height="85.2" fill="none" stroke="#a4a4a4" stroke-width="1.2"/>
<path d="M44.1,486.1 V571.9 H128.4" fill="none" stroke="#4a4a4a" stroke-width="1.1"/>
<text x="82" y="508" font-size="5.3999999999999995" fill="#c040c0">4.88</text>
<text x="118" y="570" font-size="5.3999999999999995" fill="#c040c0">97.9</text>
<text transform="translate(39.5,522.8) rotate(-90)" x="0" y="0" font-size="9.00" fill="#222" stroke="#222" stroke-width="0.11" text-anchor="middle" textLength="82.5" lengthAdjust="spacingAndGlyphs">(Sm154)Dd: CD107a</text>
<text x="86.1" y="585.0" font-size="10.40" fill="#222" stroke="#222" stroke-width="0.12" text-anchor="middle" textLength="83.8" lengthAdjust="spacingAndGlyphs">(Nd144)Dd: CD69</text>
<clipPath id="c17"><rect x="152.1" y="485.5" width="84.1" height="85.89999999999998"/></clipPath>
<g clip-path="url(#c17)">
<g filter="url(#d_444cba_2_5_3)">
<polygon points="161.4,533 190,532 221,534 221,562.3 161.4,562.3" fill="#000" fill-opacity="0.4"/>
<rect x="161.4" y="533" width="35" height="29" fill="#000" fill-opacity="0.3"/>
</g>
<g filter="url(#d_38b0cc_1_5_5)">
<rect x="161.4" y="550" width="30" height="9" fill="#000" fill-opacity="0.6"/>
</g>
<rect x="161.4" y="545" width="3" height="17.3" fill="#3cb4cc" fill-opacity="0.8"/>
<rect x="161.4" y="559.2" width="60" height="3.1" fill="url(#gc2b)" fill-opacity="0.95"/>
</g>
<line x1="196.5" y1="485.5" x2="196.5" y2="571.4" stroke="#d77ad7" stroke-width="1.2"/>
<line x1="152.1" y1="528.4" x2="236.2" y2="528.4" stroke="#d77ad7" stroke-width="1.2"/>
<line x1="152.1" y1="486.9" x2="236.2" y2="486.9" stroke="#d77ad7" stroke-width="1.2"/>
<line x1="234.79999999999998" y1="485.5" x2="234.79999999999998" y2="571.4" stroke="#d77ad7" stroke-width="1.2"/>
<line x1="152.79999999999998" y1="485.5" x2="152.79999999999998" y2="528.4" stroke="#d77ad7" stroke-width="1.2"/>
<rect x="152.1" y="485.5" width="84.1" height="85.9" fill="none" stroke="#a4a4a4" stroke-width="1.2"/>
<path d="M152.1,484.9 V571.4 H236.8" fill="none" stroke="#4a4a4a" stroke-width="1.1"/>
<text x="190" y="508" font-size="5.3999999999999995" fill="#c040c0">0.52</text>
<text x="227" y="490" font-size="5.3999999999999995" fill="#c040c0">14.9</text>
<text transform="translate(147.4,523.0) rotate(-90)" x="0" y="0" font-size="9.00" fill="#222" stroke="#222" stroke-width="0.11" text-anchor="middle" textLength="79.1" lengthAdjust="spacingAndGlyphs">(Gd155)Dd: GMCSF</text>
<text x="193.6" y="585.0" font-size="10.40" fill="#222" stroke="#222" stroke-width="0.12" text-anchor="middle" textLength="71.2" lengthAdjust="spacingAndGlyphs">(Gd157)Dd: IL2</text>
<clipPath id="c18"><rect x="256.9" y="486.7" width="83.40000000000003" height="85.90000000000003"/></clipPath>
<g clip-path="url(#c18)">
<g filter="url(#d_444cba_2_3)">
<rect x="266" y="526" width="63" height="36.5" fill="#000" fill-opacity="0.25"/>
<rect x="266" y="526" width="63" height="18" fill="#000" fill-opacity="0.4"/>
<rect x="266" y="540" width="8" height="22" fill="#000" fill-opacity="0.3"/>
</g>
<g filter="url(#d_38b0cc_2_5)">
<ellipse cx="282" cy="533" rx="17" ry="7" fill="#000" fill-opacity="0.8"/>
<rect x="318.5" y="530" width="9.5" height="32" fill="#000" fill-opacity="0.7"/>
</g>
<g filter="url(#d_5cc060_1_5_7)">
<ellipse cx="286" cy="532" rx="10" ry="4.5" fill="#000" fill-opacity="0.75"/>
<rect x="320" y="534" width="7" height="27" fill="#000" fill-opacity="0.6"/>
</g>
<rect x="266" y="527" width="2.5" height="13" fill="#6cc244" fill-opacity="0.45" filter="url(#b0_5)"/>
<ellipse cx="287" cy="533" rx="3" ry="2" fill="#e4dc22" fill-opacity="0.6" filter="url(#b1)"/>
<ellipse cx="324.5" cy="541" rx="1.8" ry="2.5" fill="#f0a020" fill-opacity="0.8" filter="url(#b0_5)"/>
<rect x="322.5" y="558.5" width="4.5" height="3.5" fill="#e0301c" fill-opacity="0.85" filter="url(#b0_3)"/>
</g>
<line x1="300.9" y1="486.7" x2="300.9" y2="572.6" stroke="#d77ad7" stroke-width="1.2"/>
<line x1="256.9" y1="525.4" x2="340.3" y2="525.4" stroke="#d77ad7" stroke-width="1.2"/>
<line x1="256.9" y1="488.09999999999997" x2="340.3" y2="488.09999999999997" stroke="#d77ad7" stroke-width="1.2"/>
<line x1="338.90000000000003" y1="486.7" x2="338.90000000000003" y2="525.4" stroke="#d77ad7" stroke-width="1.2"/>
<line x1="257.59999999999997" y1="486.7" x2="257.59999999999997" y2="525.4" stroke="#d77ad7" stroke-width="1.2"/>
<rect x="256.9" y="486.7" width="83.4" height="85.9" fill="none" stroke="#a4a4a4" stroke-width="1.2"/>
<path d="M256.9,486.1 V572.6 H340.9" fill="none" stroke="#4a4a4a" stroke-width="1.1"/>
<text x="258.5" y="492" font-size="5.3999999999999995" fill="#c040c0">0.845</text>
<text x="331" y="492" font-size="5.3999999999999995" fill="#c040c0">46.5</text>
<text transform="translate(252.3,522.5) rotate(-90)" x="0" y="0" font-size="9.00" fill="#222" stroke="#222" stroke-width="0.11" text-anchor="middle" textLength="66.1" lengthAdjust="spacingAndGlyphs">(Dy162)Dd: IL10</text>
<text x="297.8" y="585.0" font-size="10.40" fill="#222" stroke="#222" stroke-width="0.12" text-anchor="middle" textLength="79.7" lengthAdjust="spacingAndGlyphs">(Gd158)Dd: IFNg</text>
<clipPath id="c19"><rect x="359.9" y="485" width="83.10000000000002" height="85.70000000000005"/></clipPath>
<g clip-path="url(#c19)">
<g filter="url(#d_444cba_2_5_3)">
<polygon points="368.6,531 395,530 412,528 424,532 424.2,562 368.6,562" fill="#000" fill-opacity="0.55"/>
<rect x="368.6" y="538" width="32" height="24" fill="#000" fill-opacity="0.2"/>
</g>
<g filter="url(#d_38b0cc_1_5_5)">
<rect x="368.6" y="550" width="30" height="9" fill="#000" fill-opacity="0.35"/>
</g>
<rect x="368.6" y="545" width="3" height="17" fill="url(#gc4s)" fill-opacity="0.9"/>
<rect x="368.6" y="559" width="56" height="3" fill="url(#gc4b)" fill-opacity="0.95"/>
</g>
<line x1="399" y1="485" x2="399" y2="570.7" stroke="#d77ad7" stroke-width="1.2"/>
<line x1="359.9" y1="525" x2="443" y2="525" stroke="#d77ad7" stroke-width="1.2"/>
<line x1="359.9" y1="486.4" x2="443" y2="486.4" stroke="#d77ad7" stroke-width="1.2"/>
<line x1="441.6" y1="485" x2="441.6" y2="570.7" stroke="#d77ad7" stroke-width="1.2"/>
<line x1="360.59999999999997" y1="485" x2="360.59999999999997" y2="525" stroke="#d77ad7" stroke-width="1.2"/>
<rect x="359.9" y="485.0" width="83.1" height="85.7" fill="none" stroke="#a4a4a4" stroke-width="1.2"/>
<path d="M359.9,484.4 V570.7 H443.6" fill="none" stroke="#4a4a4a" stroke-width="1.1"/>
<text x="361" y="491" font-size="5.3999999999999995" fill="#c040c0">0.127</text>
<text x="415" y="529" font-size="5.3999999999999995" fill="#c040c0">31.9</text>
<text transform="translate(354.3,522.9) rotate(-90)" x="0" y="0" font-size="9.00" fill="#222" stroke="#222" stroke-width="0.11" text-anchor="middle" textLength="66.0" lengthAdjust="spacingAndGlyphs">(Dy164)Dd: IL17</text>
<text x="401.7" y="585.0" font-size="10.40" fill="#222" stroke="#222" stroke-width="0.12" text-anchor="middle" textLength="78.8" lengthAdjust="spacingAndGlyphs">(Sm152)Dd: TNF</text>
<clipPath id="c20"><rect x="468" y="481.6" width="83.20000000000005" height="85.5"/></clipPath>
<g clip-path="url(#c20)">
<g filter="url(#d_444cba_2_5_3)">
<polygon points="477.1,524 490,518 505,519 520,523 530,528 537.7,536 537.7,557.6 477.1,557.6" fill="#000" fill-opacity="0.45"/>
<rect x="477.1" y="535" width="55" height="22.6" fill="#000" fill-opacity="0.4"/>
</g>
<g filter="url(#d_38b0cc_2_5)">
<rect x="485" y="537" width="40" height="17" fill="#000" fill-opacity="0.4"/>
</g>
<rect x="477.1" y="554.5" width="60.6" height="3.1" fill="url(#gc5b)" fill-opacity="0.95"/>
</g>
<line x1="511.5" y1="481.6" x2="511.5" y2="567.1" stroke="#d77ad7" stroke-width="1.2"/>
<line x1="468" y1="540.2" x2="551.2" y2="540.2" stroke="#d77ad7" stroke-width="1.2"/>
<line x1="468" y1="483.0" x2="551.2" y2="483.0" stroke="#d77ad7" stroke-width="1.2"/>
<line x1="549.8000000000001" y1="481.6" x2="549.8000000000001" y2="567.1" stroke="#d77ad7" stroke-width="1.2"/>
<line x1="468.7" y1="481.6" x2="468.7" y2="540.2" stroke="#d77ad7" stroke-width="1.2"/>
<rect x="468.0" y="481.6" width="83.2" height="85.5" fill="none" stroke="#a4a4a4" stroke-width="1.2"/>
<path d="M468.0,481.0 V567.1 H551.8" fill="none" stroke="#4a4a4a" stroke-width="1.1"/>
<text x="504" y="513" font-size="5.3999999999999995" fill="#c040c0">21.2</text>
<text x="526" y="526" font-size="5.3999999999999995" fill="#c040c0">45.5</text>
<text transform="translate(463.2,522.8) rotate(-90)" x="0" y="0" font-size="9.00" fill="#222" stroke="#222" stroke-width="0.11" text-anchor="middle" textLength="75.7" lengthAdjust="spacingAndGlyphs">(Dy163)Dd: CD154</text>
<text x="508.9" y="585.0" font-size="10.40" fill="#222" stroke="#222" stroke-width="0.12" text-anchor="middle" textLength="88.7" lengthAdjust="spacingAndGlyphs">(Nd148)Dd: MIP1b</text>
<clipPath id="c21"><rect x="577.7" y="479.3" width="83.09999999999991" height="85.69999999999999"/></clipPath>
<g clip-path="url(#c21)">
<g filter="url(#d_444cba_2_5_3)">
<polygon points="586.6,530 600,528 615,526 621,525 621,555.6 586.6,555.6" fill="#000" fill-opacity="0.45"/>
<polygon points="621,522 632,515 643,513 643.5,555.6 621,555.6" fill="#000" fill-opacity="0.5"/>
<rect x="621" y="530" width="22.5" height="25.6" fill="#000" fill-opacity="0.45"/>
</g>
<g filter="url(#d_38b0cc_2_5)">
<ellipse cx="632" cy="541" rx="8" ry="13" fill="#000" fill-opacity="0.8"/>
</g>
<g filter="url(#d_5cc060_1_5_7)">
<ellipse cx="632" cy="541" rx="6" ry="11" fill="#000" fill-opacity="0.65"/>
</g>
<g filter="url(#d_d8d830_1_2_11)">
<ellipse cx="633" cy="544" rx="3" ry="6" fill="#000" fill-opacity="0.4"/>
</g>
<rect x="586.6" y="552.3" width="57" height="3.3" fill="url(#gc6b)" fill-opacity="0.95"/>
</g>
<line x1="621.5" y1="479.3" x2="621.5" y2="565" stroke="#d77ad7" stroke-width="1.2"/>
<line x1="577.7" y1="538.2" x2="660.8" y2="538.2" stroke="#d77ad7" stroke-width="1.2"/>
<line x1="577.7" y1="480.7" x2="660.8" y2="480.7" stroke="#d77ad7" stroke-width="1.2"/>
<line x1="659.4" y1="479.3" x2="659.4" y2="565" stroke="#d77ad7" stroke-width="1.2"/>
<line x1="578.4000000000001" y1="479.3" x2="578.4000000000001" y2="538.2" stroke="#d77ad7" stroke-width="1.2"/>
<rect x="577.7" y="479.3" width="83.1" height="85.7" fill="none" stroke="#a4a4a4" stroke-width="1.2"/>
<path d="M577.7,478.7 V565.0 H661.4" fill="none" stroke="#4a4a4a" stroke-width="1.1"/>
<text x="605" y="511" font-size="5.3999999999999995" fill="#c040c0">23.6</text>
<rect x="636.2" y="519.4" width="13.4" height="5.9" fill="#fff"/>
<text x="637" y="524" font-size="5.3999999999999995" fill="#c040c0">50.6</text>
<text transform="translate(573.0,522.6) rotate(-90)" x="0" y="0" font-size="9.00" fill="#222" stroke="#222" stroke-width="0.11" text-anchor="middle" textLength="81.4" lengthAdjust="spacingAndGlyphs">(Yb175)Dd: Perforin</text>
<text x="618.4" y="585.0" font-size="10.40" fill="#222" stroke="#222" stroke-width="0.12" text-anchor="middle" textLength="106.6" lengthAdjust="spacingAndGlyphs">(Eu153)Dd: Granzyme</text>
</svg>
</body></html>
